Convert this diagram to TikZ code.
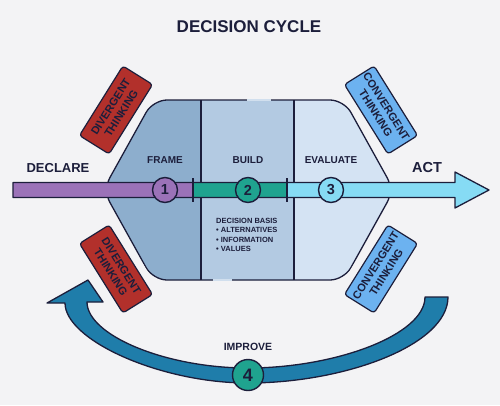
\documentclass[tikz,border=0pt]{standalone}
\usepackage{fontspec}
\setmainfont{Liberation Sans}
\definecolor{bg}{HTML}{F3F3F5}
\definecolor{navy}{HTML}{1C1E3B}
\definecolor{cpurple}{HTML}{9B72B8}
\definecolor{cteal}{HTML}{1FA38F}
\definecolor{ccyan}{HTML}{86DBF4}
\definecolor{cframe}{HTML}{8DAECD}
\definecolor{cbuild}{HTML}{B3CAE2}
\definecolor{ceval}{HTML}{D4E3F3}
\definecolor{cred}{HTML}{B2302B}
\definecolor{cblue}{HTML}{6CB2F0}
\definecolor{cimprove}{HTML}{1F7DAA}
\begin{document}
\begin{tikzpicture}[x=1pt,y=-1pt,
  outline/.style={draw=navy,line width=1.3pt,line join=round},
  lbl/.style={text=navy,font=\bfseries\fontsize{10}{12}\selectfont,inner sep=0pt},
  biglbl/.style={text=navy,font=\bfseries\fontsize{13.5}{15}\selectfont,inner sep=0pt},
  thinkbox/.style={draw=navy,line width=1.2pt,rounded corners=3pt,minimum width=82pt,minimum height=35pt,
    align=center,inner sep=0pt,text=navy,font=\bfseries\fontsize{11}{12.5}\selectfont},
  halo/.style={draw=bg,line width=16pt,rounded corners=3pt,minimum width=82pt,minimum height=35pt,inner sep=0pt},
  numcirc/.style={circle,draw=navy,line width=1.4pt,minimum size=25pt,inner sep=0pt,text=navy,
    font=\bfseries\fontsize{14.5}{15}\selectfont}
]
\fill[bg] (0,0) rectangle (500,405);
\useasboundingbox (0,0) rectangle (500,405);

% title
\node[text=navy,font=\bfseries\fontsize{17}{19}\selectfont,inner sep=0pt] (title) at (249,27) {DECISION CYCLE};

% hexagon sections
\begin{scope}
  \clip[rounded corners=14pt] (103,190) -- (153,100) -- (344,100) -- (394,190) -- (344,280) -- (153,280) -- cycle;
  \fill[cframe] (0,0) rectangle (201,405);
  \fill[cbuild] (201,0) rectangle (294,405);
  \fill[ceval] (294,0) rectangle (500,405);
\end{scope}
\draw[outline,rounded corners=14pt] (103,190) -- (153,100) -- (344,100) -- (394,190) -- (344,280) -- (153,280) -- cycle;
\draw[outline] (201,100) -- (201,280);
\draw[outline] (294,100) -- (294,280);
\draw[line width=2pt,cbuild!60!white] (247,100) -- (271,100);
\draw[line width=2pt,cbuild!60!white] (213,280) -- (232,280);

% section labels
\node[lbl] (frame) at (165,160) {FRAME};
\node[lbl] (build) at (248,160) {BUILD};
\node[lbl] (evaluate) at (331,160) {EVALUATE};
\node[text=navy,font=\bfseries\fontsize{7.5}{9.3}\selectfont,align=left,anchor=north west,inner sep=0pt]
  (basis) at (216,218.5) {DECISION BASIS\\[-0.3pt]• ALTERNATIVES\\• INFORMATION\\• VALUES};

% thinking boxes (halos first)
\node[halo,rotate=58] at (116,110) {};
\node[halo,rotate=-58] at (116,269) {};
\node[halo,rotate=-58] at (381,110) {};
\node[halo,rotate=58] at (381,269) {};
\node[thinkbox,fill=cred,rotate=58] (div1) at (116,110) {DIVERGENT\\THINKING};
\node[thinkbox,fill=cred,rotate=-58] (div2) at (116,269) {DIVERGENT\\THINKING};
\node[thinkbox,fill=cblue,rotate=-58] (conv1) at (381,110) {CONVERGENT\\THINKING};
\node[thinkbox,fill=cblue,rotate=58] (conv2) at (381,269) {CONVERGENT\\THINKING};

% improve arrow
\draw[outline,fill=cimprove] (65,303) .. controls (65,340) and (160,383) .. (248,383)
  .. controls (345,383) and (448,345) .. (448,297) -- (425,297)
  .. controls (425,335) and (335,368) .. (248,368)
  .. controls (165,368) and (87,335) .. (87,302) -- (103,302) -- (88,280) -- (47,303) -- cycle;
\node[lbl,font=\bfseries\fontsize{10.5}{12}\selectfont] (improve) at (248,347) {IMPROVE};
\node[numcirc,fill=cteal,minimum size=31pt,font=\bfseries\fontsize{18}{18}\selectfont] (c4) at (248,375) {4};

% main arrow
\fill[cpurple] (13,182.5) rectangle (193,197.5);
\fill[cteal] (193,182.5) rectangle (287,197.5);
\fill[ccyan] (287,182.5) -- (455,182.5) -- (455,172) -- (489,190) -- (455,208) -- (455,197.5) -- (287,197.5) -- cycle;
\draw[outline] (13,182.5) -- (455,182.5) -- (455,172) -- (489,190) -- (455,208) -- (455,197.5) -- (13,197.5) -- cycle;
\draw[outline] (193,178) -- (193,202);
\draw[outline] (287,178) -- (287,202);

\node[numcirc,fill=cpurple] (c1) at (165,190) {1};
\node[numcirc,fill=cteal] (c2) at (248,190) {2};
\node[numcirc,fill=ccyan] (c3) at (331,190) {3};

\node[biglbl,font=\bfseries\fontsize{13}{15}\selectfont] (declare) at (58,168) {DECLARE};
\node[biglbl,font=\bfseries\fontsize{14.5}{16}\selectfont] (act) at (427,168) {ACT};
\end{tikzpicture}
\end{document}
